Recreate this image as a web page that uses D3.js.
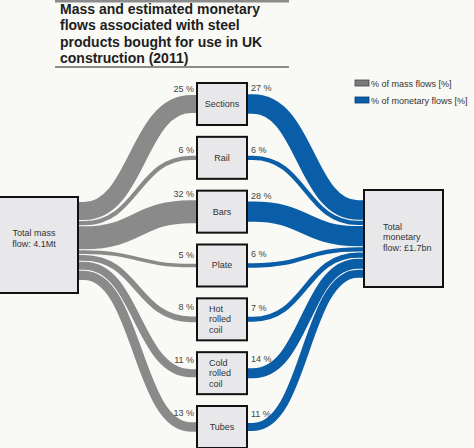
<!DOCTYPE html>
<html lang="en">
<head>
<meta charset="utf-8">
<title>Steel products bought for UK construction</title>
<script src="https://cdn.jsdelivr.net/npm/d3@7"></script>
<style>
body { margin: 0; background: #f9f9f6; }
text { font-family: Arial, "Liberation Sans", sans-serif; font-size: 9px; fill: #333; }
.title { font-size: 14px; font-weight: bold; fill: #1e1e1e; }
.pct { fill: #444; }
</style>
</head>
<body>
<script>
// data
var categories = ["Sections", "Rail", "Bars", "Plate", "Hot rolled coil", "Cold rolled coil", "Tubes"];
var boxLabels = [["Sections"], ["Rail"], ["Bars"], ["Plate"], ["Hot", "rolled", "coil"], ["Cold", "rolled", "coil"], ["Tubes"]];
var massPct = [25, 6, 32, 5, 8, 11, 13];
var moneyPct = [27, 6, 28, 6, 7, 14, 11];
var titleLines = ["Mass and estimated monetary", "flows associated with steel", "products bought for use in UK", "construction (2011)"];
var legendLabels = ["% of mass flows [%]", "% of monetary flows [%]"];
var massTotal = ["Total mass", "flow: 4.1Mt"];
var moneyTotal = ["Total", "monetary", "flow: \u00a31.7bn"];

var w = 474, h = 448;
var bg = "#f9f9f6";
var grey = "#8a8a8a", blue = "#0a5ea8";
var boxFill = "#e8e8ea";

var svg = d3.select("body").append("svg")
    .attr("width", w)
    .attr("height", h);

svg.append("rect").attr("width", w).attr("height", h).attr("fill", bg);

// title
svg.append("rect").attr("x", 55).attr("y", 0).attr("width", 234).attr("height", 2.5).attr("fill", "#8c8c8c");
svg.append("rect").attr("x", 55).attr("y", 66).attr("width", 234).attr("height", 2).attr("fill", "#8c8c8c");
svg.selectAll("text.title")
    .data(titleLines)
    .enter()
    .append("text")
    .attr("class", "title")
    .attr("x", 60)
    .attr("y", function(d, i) { return 13.5 + i * 16.5; })
    .text(function(d) { return d; });

// scales
var y = d3.scaleBand()
    .domain(categories)
    .range([83, 448])
    .paddingInner(0.22)
    .paddingOuter(0);
var thick = d3.scaleLinear().domain([0, 100]).range([0, 72]);

var midX0 = 197, midX1 = 247;
var left = {x0: -10, x1: 78, y0: 197, y1: 293, cy: 241};
var right = {x0: 364, x1: 443, y0: 190, y1: 287, cy: 239};

function stack(values, cy) {
    var gap = 1;
    var total = d3.sum(values, thick) + gap * (values.length - 1);
    var pos = cy - total / 2;
    return values.map(function(v) {
        var t = thick(v);
        var c = pos + t / 2;
        pos += t + gap;
        return c;
    });
}

var leftY = stack(massPct, left.cy);
var rightY = stack(moneyPct, right.cy);

// curved link with short straight runs at both ends
var run = 6;
var curve = d3.linkHorizontal();
function link(x0, y0, x1, y1) {
    return "M" + x0 + "," + y0 + "H" + (x0 + run) +
        curve({source: [x0 + run, y0], target: [x1 - run, y1]}).replace(/^M[^C]*/, "") +
        "H" + x1;
}

function boxCenter(c) { return y(c) + y.bandwidth() / 2; }

// grey flows
var gLinks = svg.append("g");
categories.forEach(function(c, i) {
    var d = link(left.x1, leftY[i], midX0, boxCenter(c));
    gLinks.append("path").attr("d", d).attr("fill", "none")
        .attr("stroke", bg).attr("stroke-width", thick(massPct[i]) + 1.2);
    gLinks.append("path").attr("d", d).attr("fill", "none")
        .attr("stroke", grey).attr("stroke-width", thick(massPct[i]));
});

// blue flows
var bLinks = svg.append("g");
categories.forEach(function(c, i) {
    var d = link(midX1, boxCenter(c), right.x0, rightY[i]);
    bLinks.append("path").attr("d", d).attr("fill", "none")
        .attr("stroke", bg).attr("stroke-width", thick(moneyPct[i]) + 1.2);
    bLinks.append("path").attr("d", d).attr("fill", "none")
        .attr("stroke", blue).attr("stroke-width", thick(moneyPct[i]));
});

// total boxes
[left, right].forEach(function(b) {
    svg.append("rect")
        .attr("x", b.x0).attr("y", b.y0)
        .attr("width", b.x1 - b.x0).attr("height", b.y1 - b.y0)
        .attr("fill", boxFill).attr("stroke", "#111").attr("stroke-width", 2);
});
svg.selectAll("text.mass")
    .data(massTotal)
    .enter()
    .append("text")
    .attr("x", 34)
    .attr("y", function(d, i) { return 236 + i * 10.5; })
    .attr("text-anchor", "middle")
    .text(function(d) { return d; });
svg.selectAll("text.money")
    .data(moneyTotal)
    .enter()
    .append("text")
    .attr("x", 383)
    .attr("y", function(d, i) { return 230 + i * 10.3; })
    .text(function(d) { return d; });

// product boxes
var boxes = svg.selectAll("g.box")
    .data(categories)
    .enter()
    .append("g")
    .attr("class", "box")
    .attr("transform", function(d) { return "translate(" + midX0 + "," + y(d) + ")"; });

boxes.append("rect")
    .attr("width", midX1 - midX0)
    .attr("height", y.bandwidth())
    .attr("fill", boxFill)
    .attr("stroke", "#111")
    .attr("stroke-width", 2);

boxes.each(function(d, i) {
    var lines = boxLabels[i];
    var g = d3.select(this);
    var bw = midX1 - midX0, bh = y.bandwidth();
    var lh = 10.5;
    g.selectAll("text")
        .data(lines)
        .enter()
        .append("text")
        .attr("x", lines.length > 1 ? 12 : bw / 2)
        .attr("text-anchor", lines.length > 1 ? "start" : "middle")
        .attr("y", function(t, j) { return bh / 2 + 3 + (j - (lines.length - 1) / 2) * lh; })
        .text(function(t) { return t; });
});

// percent labels, sit higher when the flow comes down onto the box
function labelY(c, v, fromY) {
    var top = boxCenter(c) - thick(v) / 2;
    return fromY < boxCenter(c) ? top - 6 : top - 3;
}
svg.selectAll("text.lpct")
    .data(categories)
    .enter()
    .append("text")
    .attr("class", "pct")
    .attr("x", 194)
    .attr("y", function(d, i) { return labelY(d, massPct[i], leftY[i]); })
    .attr("text-anchor", "end")
    .text(function(d, i) { return massPct[i] + " %"; });
svg.selectAll("text.rpct")
    .data(categories)
    .enter()
    .append("text")
    .attr("class", "pct")
    .attr("x", 251)
    .attr("y", function(d, i) { return labelY(d, moneyPct[i], rightY[i]); })
    .text(function(d, i) { return moneyPct[i] + " %"; });

// legend
var legend = svg.selectAll("g.legend")
    .data(legendLabels)
    .enter()
    .append("g")
    .attr("transform", function(d, i) { return "translate(355," + (80 + i * 17) + ")"; });
legend.append("rect")
    .attr("width", 14).attr("height", 6)
    .attr("fill", function(d, i) { return i === 0 ? "#7a7a7a" : blue; })
    .attr("stroke", function(d, i) { return i === 0 ? "#444" : "#063c6e"; })
    .attr("stroke-width", 0.8);
legend.append("text")
    .attr("x", 16)
    .attr("y", 6.5)
    .attr("fill", "#444")
    .text(function(d) { return d; });
</script>
</body>
</html>
